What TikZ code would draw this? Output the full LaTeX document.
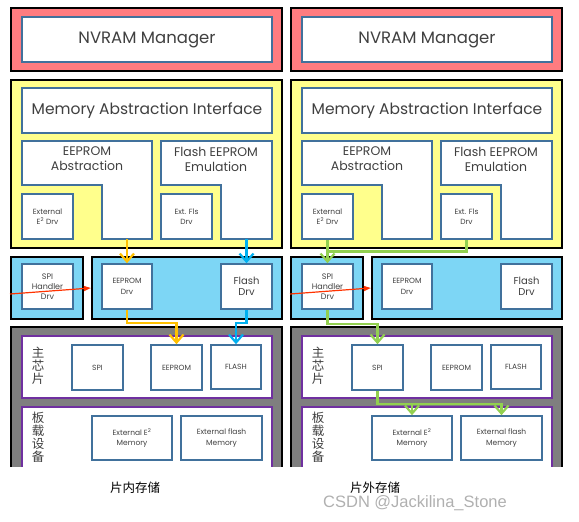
\documentclass[tikz,border=0pt]{standalone}
\usepackage{fontspec}
\setmainfont{Poppins}
\newfontfamily\cjk{Noto Sans CJK SC}
\newfontfamily\wmfont{Liberation Sans}
\usetikzlibrary{arrows.meta,calc}

\definecolor{nvramred}{HTML}{FF7C80}
\definecolor{memyellow}{HTML}{FFFF8C}
\definecolor{drvblue}{HTML}{7DD6F5}
\definecolor{hwgray}{HTML}{7F7F7F}
\definecolor{edgeblue}{HTML}{41719C}
\definecolor{edgepurple}{HTML}{7030A0}
\definecolor{txtgray}{HTML}{404040}
\definecolor{eeorange}{HTML}{FFC000}
\definecolor{flblue}{HTML}{00B0F0}
\definecolor{spigreen}{HTML}{92D050}
\definecolor{wirered}{HTML}{FF3300}
\definecolor{wmgray}{HTML}{B0B0B0}

\begin{document}
\begin{tikzpicture}[x=1pt, y=-1pt,
    layer/.style={draw=black, line width=2.2pt, inner sep=0pt},
    box/.style={draw=edgeblue, fill=white, line width=1.6pt, inner sep=0pt, align=center, text=txtgray},
    lshape/.style={draw=edgeblue, fill=white, line width=1.6pt},
    chipedge/.style={draw=edgepurple, line width=2pt, inner sep=0pt},
    lbl/.style={inner sep=0pt, align=center, text=txtgray},
    fbig/.style={font=\fontsize{16.5}{18}\selectfont},
    fmid/.style={font=\fontsize{12.5}{15}\selectfont},
    fsmall/.style={font=\fontsize{7.5}{10.5}\selectfont},
    hanzi/.style={font=\cjk\fontsize{12.5}{13}\selectfont, text=txtgray, align=center, inner sep=0pt},
    flow/.style={line width=2.2pt, -{Straight Barb[length=8pt,width=14pt,line width=2.2pt]}},
    wire/.style={draw=wirered, line width=1.2pt, -{Triangle[length=7pt,width=5pt]}}]

\useasboundingbox (0,0) rectangle (579,522);

\foreach \s/\dx in {l/0, r/280} {
\begin{scope}[xshift=\dx, name prefix=\s-]
    % NVRAM layer
    \node[layer, fill=nvramred, minimum width=271, minimum height=63] (nvlayer) at (146.5,39.5) {};
    \node[box, fbig, minimum width=250, minimum height=45] (nvram) at (147,39.5) {NVRAM Manager};

    % memory abstraction layer
    \node[layer, fill=memyellow, minimum width=271, minimum height=168] (memlayer) at (146.5,164) {};
    \node[box, font=\fontsize{15.5}{18}\selectfont, minimum width=250, minimum height=45] (mai) at (147,110.5) {Memory Abstraction Interface};
    \draw[lshape] (22,141) -- (152,141) -- (152,239) -- (102,239) -- (102,185) -- (22,185) -- cycle;
    \node[lbl, fmid] (eeabs) at (87,159) {EEPROM\\Abstraction};
    \coordinate (eeout) at (127,239);
    \draw[lshape] (161,141) -- (272,141) -- (272,239) -- (221,239) -- (221,185) -- (161,185) -- cycle;
    \node[lbl, fmid] (feeabs) at (216,159) {Flash EEPROM\\Emulation};
    \coordinate (flout) at (246.5,239);
    \node[box, fsmall, minimum width=51, minimum height=45] (e2drv) at (47.5,216.5) {External\\E\textsuperscript{2} Drv};
    \node[box, fsmall, minimum width=51, minimum height=45] (flsdrv) at (186.5,216.5) {Ext. Fls\\Drv};

    % driver layer
    \node[layer, fill=drvblue, minimum width=72, minimum height=62] (spilayer) at (47,288) {};
    \node[layer, fill=drvblue, minimum width=190, minimum height=62] (drvlayer) at (187,288) {};
    \node[box, font=\fontsize{8}{10.3}\selectfont, minimum width=51, minimum height=45] (spih) at (47.5,286.5) {SPI\\Handler\\Drv};
    \node[box, fsmall, minimum width=50, minimum height=45] (eedrv) at (127,286.5) {EEPROM\\Drv};
    \node[box, font=\fontsize{10}{11}\selectfont, minimum width=51, minimum height=45] (fldrv) at (246.5,286.5) {Flash\\Drv};
    \coordinate (wirestart) at (10,294);

    % hardware layer
    \fill[hwgray] (11,327) rectangle (282,467);
    \draw[layer] (11,467) |- (282,327) -- (282,467);
    \node[chipedge, fill=white, minimum width=250, minimum height=62] (chiplayer) at (147,367) {};
    \node[hanzi] (chiplbl) at (38,366) {主\\芯\\片};
    \node[box, fsmall, minimum width=51, minimum height=45] (spi) at (97.5,367.5) {SPI};
    \node[box, fsmall, minimum width=51, minimum height=45] (eechip) at (176.5,367.5) {EEPROM};
    \node[box, fsmall, minimum width=50, minimum height=44] (flchip) at (236,367) {FLASH};
    \fill[white] (22,407) rectangle (272,467);
    \draw[chipedge] (22,467) |- (272,407) -- (272,467);
    \node[hanzi] (boardlbl) at (38,437) {板\\载\\设\\备};
    \node[box, fsmall, minimum width=80, minimum height=44] (e2mem) at (132,438) {External E\textsuperscript{2}\\Memory};
    \node[box, fsmall, minimum width=81, minimum height=44] (flmem) at (221.5,438) {External flash\\Memory};
\end{scope}
}

% on-chip storage
\draw[flow, eeorange] (l-eeout) -- (l-eedrv.north);
\draw[flow, eeorange] (l-eedrv.south) -- ++(0,13) -| (l-eechip.north);
\draw[flow, flblue] (l-flout) -- (l-fldrv.north);
\draw[flow, flblue] (l-fldrv.south) -- ++(0,13) -| (l-flchip.north);

% off-chip storage
\draw[flow, spigreen] (r-e2drv.south) -- (r-spih.north);
\draw[spigreen, line width=2.2pt] (r-flsdrv.south) |- ($(r-e2drv.south)!.5!(r-spih.north)$);
\draw[flow, spigreen] (r-spih.south) -- ++(0,14) -| (r-spi.north);
\draw[flow, spigreen] (r-spi.south) -- ++(0,13) -| (r-e2mem.north);
\draw[flow, spigreen] (r-spi.south) -- ++(0,13) -| (r-flmem.north);

\draw[wire] (l-wirestart) -- (l-drvlayer.west);
\draw[wire] (r-wirestart) -- (r-drvlayer.west);

\node[font=\cjk\fontsize{12.5}{14}\selectfont, inner sep=0pt] (l-caption) at (135,488) {片内存储};
\node[font=\cjk\fontsize{12.5}{14}\selectfont, inner sep=0pt] (r-caption) at (375,488) {片外存储};
\node[font=\wmfont\fontsize{16.5}{18}\selectfont, text=wmgray, inner sep=0pt] (watermark) at (415,503) {CSDN @Jackilina\_Stone};
\end{tikzpicture}
\end{document}
